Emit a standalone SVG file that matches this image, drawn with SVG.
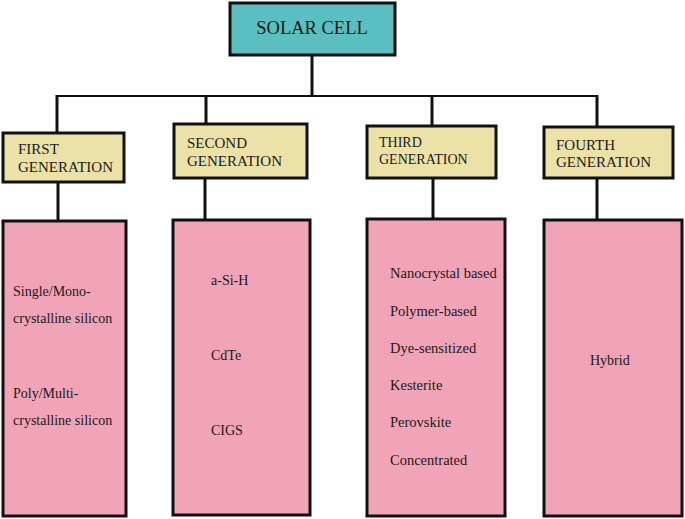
<svg xmlns="http://www.w3.org/2000/svg" width="685" height="519" viewBox="0 0 685 519">
<style>
.root{fill:#5BBEC0;stroke:#111;stroke-width:3}
.gen{fill:#ECE2A8;stroke:#111;stroke-width:3}
.list{fill:#F1A3B7;stroke:#111;stroke-width:3}
.conn{stroke:#111;stroke-width:3;fill:none}
.h{stroke:#111;stroke-width:2;fill:none}
</style>
<rect width="685" height="519" fill="#fff"/>
<g id="connectors">
<line class="conn" x1="312" y1="55" x2="312" y2="96"/>
<line class="h" x1="57" y1="96" x2="597" y2="96"/>
<line class="conn" x1="57" y1="95" x2="57" y2="133"/>
<line class="conn" x1="206" y1="95" x2="206" y2="124"/>
<line class="conn" x1="432" y1="95" x2="432" y2="126"/>
<line class="conn" x1="597" y1="95" x2="597" y2="127"/>
<line class="conn" x1="58" y1="182" x2="58" y2="221"/>
<line class="conn" x1="205" y1="178" x2="205" y2="220"/>
<line class="conn" x1="433" y1="178" x2="433" y2="219"/>
<line class="conn" x1="597" y1="178" x2="597" y2="220"/>
</g>
<g font-family="Liberation Serif, DejaVu Serif, serif" fill="#1a1a1a">
<g id="solar-cell">
<rect class="root" x="230" y="3" width="165" height="52"/>
<text x="312" y="34" font-size="18.5" text-anchor="middle">SOLAR CELL</text>
</g>
<g id="first-generation" font-size="15">
<rect class="gen" x="3" y="133" width="121" height="49"/>
<text x="18" y="154">FIRST</text>
<text x="18" y="172">GENERATION</text>
</g>
<g id="second-generation" font-size="15">
<rect class="gen" x="174" y="124" width="133" height="54"/>
<text x="187" y="148">SECOND</text>
<text x="187" y="166">GENERATION</text>
</g>
<g id="third-generation" font-size="14">
<rect class="gen" x="367" y="126" width="129" height="52"/>
<text x="379" y="147">THIRD</text>
<text x="379" y="164">GENERATION</text>
</g>
<g id="fourth-generation" font-size="15">
<rect class="gen" x="544" y="127" width="129" height="51"/>
<text x="556" y="150">FOURTH</text>
<text x="556" y="167">GENERATION</text>
</g>
<g id="first-list" font-size="14">
<rect class="list" x="3" y="221" width="123" height="295"/>
<text x="13" y="296">Single/Mono-</text>
<text x="13" y="323">crystalline silicon</text>
<text x="13" y="398">Poly/Multi-</text>
<text x="13" y="425">crystalline silicon</text>
</g>
<g id="second-list" font-size="14">
<rect class="list" x="173" y="220" width="137" height="295"/>
<text x="211" y="285">a-Si-H</text>
<text x="211" y="360">CdTe</text>
<text x="211" y="435">CIGS</text>
</g>
<g id="third-list" font-size="14.5">
<rect class="list" x="367" y="219" width="138" height="297"/>
<text x="390" y="278">Nanocrystal based</text>
<text x="390" y="316">Polymer-based</text>
<text x="390" y="353">Dye-sensitized</text>
<text x="390" y="390">Kesterite</text>
<text x="390" y="427">Perovskite</text>
<text x="390" y="465">Concentrated</text>
</g>
<g id="fourth-list" font-size="14">
<rect class="list" x="544" y="220" width="138" height="296"/>
<text x="590" y="365">Hybrid</text>
</g>
</g>
</svg>
